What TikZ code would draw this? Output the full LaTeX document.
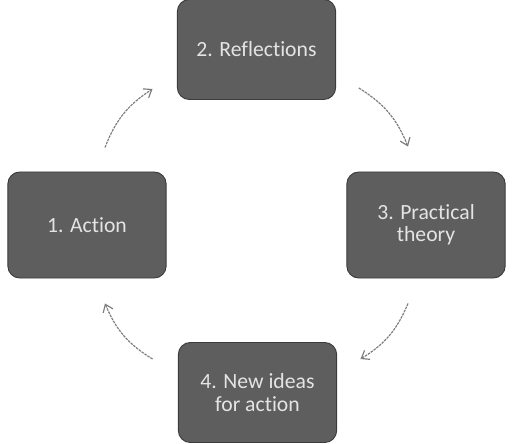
\documentclass[tikz,border=0pt]{standalone}
\usepackage{fontspec}
\setmainfont{Carlito}[Ligatures=NoCommon]
\usepackage{tikz}
\usetikzlibrary{arrows.meta, positioning}
\definecolor{boxcolor}{RGB}{94, 94, 94}
\definecolor{edgecolor}{RGB}{60, 60, 60}
\definecolor{textcolor}{RGB}{228, 228, 228}
\definecolor{arrowcolor}{RGB}{125, 125, 125}

\tikzset{
    stagebox/.style={draw=edgecolor, fill=boxcolor, line width=0.8pt, rounded corners=0.36cm,
        minimum width=4.75cm, minimum height=3cm, align=center, text=textcolor,
        font=\fontsize{18.5}{19}\selectfont},
    flow/.style={draw=arrowcolor, line width=1pt, dash pattern=on 2.2pt off 0.8pt,
        -{Straight Barb[length=6pt, width=9pt]}, bend left=18}
}

\begin{document}
\begin{tikzpicture}[x=0.03cm, y=0.03cm]
\useasboundingbox (0,0) rectangle (515,443);

% the four stages
\node[stagebox, minimum height=3.18cm] (action) at (87,218) {1. Action};
\node[stagebox] (reflect) at (256.5,393.5) {2. Reflections};
\node[stagebox, minimum height=3.18cm] (theory) at (426,218) {3. Practical\\theory};
\node[stagebox] (ideas) at (257.5,50.5) {4. New ideas\\for action};

% the cycle
\draw[flow] ([xshift=0.54cm, yshift=0.72cm]action.north) to ([xshift=-0.73cm, yshift=0.33cm]reflect.south west);
\draw[flow] ([xshift=0.68cm, yshift=0.36cm]reflect.south east) to ([xshift=-0.54cm, yshift=0.75cm]theory.north);
\draw[flow] ([xshift=-0.54cm, yshift=-0.75cm]theory.south) to ([xshift=0.7cm, yshift=-0.51cm]ideas.north east);
\draw[flow] ([xshift=-0.76cm, yshift=-0.51cm]ideas.north west) to ([xshift=0.54cm, yshift=-0.75cm]action.south);
\end{tikzpicture}
\end{document}
